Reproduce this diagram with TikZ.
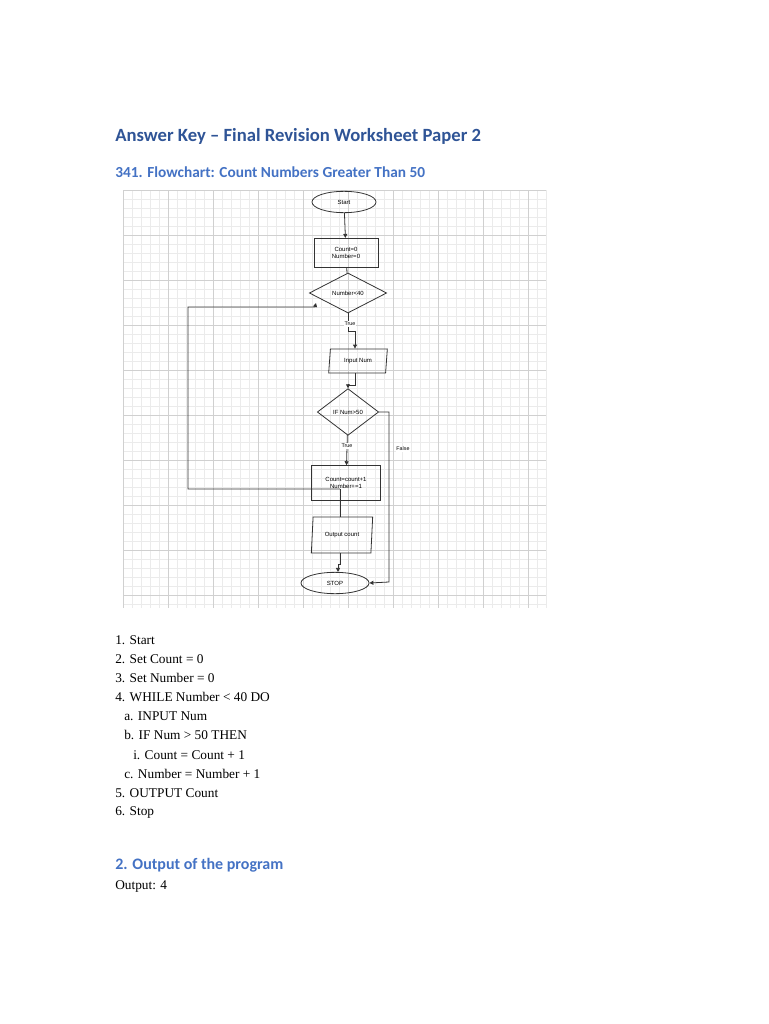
\documentclass[tikz,border=0pt]{standalone}
\usepackage{fontspec}
\setmainfont{Liberation Serif}
\newfontfamily\headfont{Carlito}
\newfontfamily\chartfont{Liberation Sans}
\usetikzlibrary{shapes.geometric,arrows.meta}
\definecolor{titleblue}{HTML}{2F5496}
\definecolor{headblue}{HTML}{4472C4}
\definecolor{gridminor}{HTML}{EBEBEB}
\definecolor{gridmajor}{HTML}{D0D0D0}
\begin{document}
\begin{tikzpicture}[x=0.75pt,y=-0.75pt,
  fc/.style={draw=black!80,line width=0.6pt,font=\chartfont\fontsize{4.5}{5.5}\selectfont,align=center,inner sep=0pt},
  term/.style={fc,ellipse,minimum width=48pt,minimum height=16pt},
  proc/.style={fc,rectangle,minimum width=48pt,minimum height=22pt},
  dec/.style={fc,diamond,aspect=1.65,minimum width=58pt,minimum height=30pt},
  io/.style={fc,trapezium,trapezium left angle=72,trapezium right angle=108,minimum width=44pt,minimum height=18pt,trapezium stretches body},
  conn/.style={draw=black!80,line width=0.6pt},
  arr/.style={conn,-{Triangle[length=3pt,width=3pt]}},
  lbl/.style={font=\chartfont\fontsize{4}{5}\selectfont,fill=white,inner sep=0.5pt},
  body/.style={anchor=west,font=\fontsize{10}{12}\selectfont,inner sep=0pt}]
\useasboundingbox (0,0) rectangle (768,1024);
% grid
\foreach \x in {123,132,...,546} \draw[gridminor,line width=0.3pt] (\x,190) -- (\x,608);
\foreach \y in {190,199,...,608} \draw[gridminor,line width=0.3pt] (123,\y) -- (546,\y);
\foreach \x in {123,168,...,546} \draw[gridmajor,line width=0.4pt] (\x,190) -- (\x,608);
\foreach \y in {190,235,...,608} \draw[gridmajor,line width=0.4pt] (123,\y) -- (546,\y);
% headings
\node[anchor=west,inner sep=0pt,text=titleblue,font=\headfont\bfseries\fontsize{14}{16}\selectfont] (title) at (115,136) {Answer Key – Final Revision Worksheet Paper 2};
\node[anchor=west,inner sep=0pt,text=headblue,font=\headfont\bfseries\fontsize{11.5}{14}\selectfont] (h1) at (115,172) {341. Flowchart: Count Numbers Greater Than 50};
% flowchart
\node[term] (start) at (344,202) {Start};
\node[proc] (init) at (346,253) {Count=0\\Number=0};
\node[dec] (while) at (348,293) {Number<40};
\node[io] (inp) at (358,361) {Input Num};
\node[dec,minimum width=46pt,minimum height=35pt,aspect=1.3] (if) at (348,412) {IF Num>50};
\node[proc,minimum width=52pt,minimum height=26pt] (inc) at (346,483) {Count=count+1\\Number+=1};
\node[io,minimum width=46pt,minimum height=27pt] (out) at (342,535) {Output count};
\node[term,minimum width=51pt] (stop) at (335,583) {STOP};
\coordinate (loopA) at (340,489);
\draw[arr] (start) -- (init);
\draw[conn] (init) -- (while);
\draw[arr] (while.south) |- (355,331) -- (inp.north -| 355,0);
\node[lbl] (t1) at (350,324) {True};
\draw[arr] (inp.south -| 355,0) -- (355,385) -| (if.north);
\draw[arr] (if) -- (inc);
\node[lbl] (t2) at (347,446) {True};
\draw[arr] (if.east) -| (389,582) -- (stop.east);
\node[lbl] (f1) at (403,449) {False};
\draw[arr] (loopA) -- (188,489) -- (188,307) -- (315,307) -- (316,303);
\draw[conn] (loopA) -- (out.north -| loopA);
\draw[arr] (out.south -| 340,0) -- (340,564) -| (stop.north -| 338,0);
% text
\node[body] (s1) at (115,640) {1. Start};
\node[body] (s2) at (115,659) {2. Set Count = 0};
\node[body] (s3) at (115,678) {3. Set Number = 0};
\node[body] (s4) at (115,697) {4. WHILE Number < 40 DO};
\node[body] (s5) at (124,716) {a. INPUT Num};
\node[body] (s6) at (124,735) {b. IF Num > 50 THEN};
\node[body] (s7) at (133,755) {i. Count = Count + 1};
\node[body] (s8) at (124,774) {c. Number = Number + 1};
\node[body] (s9) at (115,793) {5. OUTPUT Count};
\node[body] (s10) at (115,812) {6. Stop};
\node[anchor=west,inner sep=0pt,text=headblue,font=\headfont\bfseries\fontsize{12}{14}\selectfont] (h2) at (115,865) {2. Output of the program};
\node[body] (o1) at (115,886) {Output: 4};
\end{tikzpicture}
\end{document}
